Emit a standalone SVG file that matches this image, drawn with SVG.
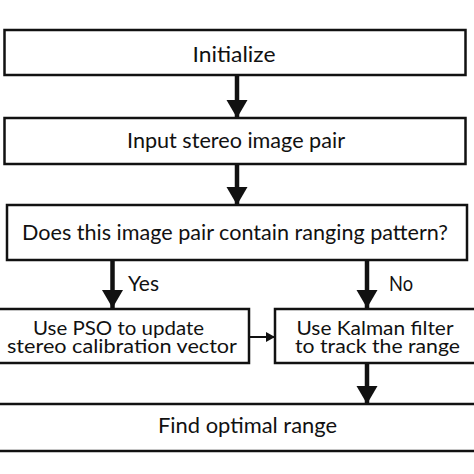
<svg xmlns="http://www.w3.org/2000/svg" width="474" height="474" viewBox="0 0 474 474">
<defs>
<style>
.box{fill:#fff;stroke:#111;stroke-width:2.5}
.t{font-family:Lato,"Open Sans",sans-serif;font-size:21.5px;fill:#111;text-anchor:middle}
.s{font-size:19.5px}
.l{font-family:Lato,"Open Sans",sans-serif;font-size:21.5px;fill:#111}
.c{stroke:#111;stroke-width:4.5;fill:none}
.c2{stroke:#111;stroke-width:2;fill:none}
</style>
<marker id="ah" markerUnits="userSpaceOnUse" markerWidth="22" markerHeight="22" refX="18" refY="10.5" orient="auto">
<path d="M0,0 L18,10.5 L0,21 Z" fill="#111"/>
</marker>
<marker id="ahs" markerUnits="userSpaceOnUse" markerWidth="10" markerHeight="12" refX="9" refY="5" orient="auto">
<path d="M0,0 L9,5 L0,10 Z" fill="#111"/>
</marker>
</defs>
<rect width="474" height="474" fill="#fff"/>
<g id="connectors">
<line class="c" x1="237" y1="75" x2="237" y2="118" marker-end="url(#ah)"/>
<line class="c" x1="237" y1="164" x2="237" y2="205" marker-end="url(#ah)"/>
<line class="c" x1="112.5" y1="260" x2="112.5" y2="308" marker-end="url(#ah)"/>
<line class="c" x1="367" y1="260" x2="367" y2="308" marker-end="url(#ah)"/>
<line class="c2" x1="249" y1="337" x2="275" y2="337" marker-end="url(#ahs)"/>
<line class="c" x1="367" y1="363" x2="367" y2="404" marker-end="url(#ah)"/>
<text class="l" x="128" y="291" textLength="31" lengthAdjust="spacingAndGlyphs">Yes</text>
<text class="l" x="389" y="291" textLength="24" lengthAdjust="spacingAndGlyphs">No</text>
</g>
<g id="n1">
<rect class="box" x="4.5" y="30" width="461" height="45"/>
<text class="t" x="234" y="62" textLength="83" lengthAdjust="spacingAndGlyphs">Initialize</text>
</g>
<g id="n2">
<rect class="box" x="4.5" y="118" width="461" height="46"/>
<text class="t" x="236" y="148" textLength="218" lengthAdjust="spacingAndGlyphs">Input stereo image pair</text>
</g>
<g id="n3">
<rect class="box" x="7" y="205" width="460" height="55"/>
<text class="t" x="235" y="239.5" textLength="426" lengthAdjust="spacingAndGlyphs">Does this image pair contain ranging pattern?</text>
</g>
<g id="n4">
<rect class="box" x="-3" y="309" width="252" height="54"/>
<text class="t s" x="118.5" y="334.5" textLength="171" lengthAdjust="spacingAndGlyphs">Use PSO to update</text>
<text class="t s" x="122" y="352.5" textLength="230" lengthAdjust="spacingAndGlyphs">stereo calibration vector</text>
</g>
<g id="n5">
<rect class="box" x="275" y="309" width="203" height="54"/>
<text class="t s" x="375" y="334.5" textLength="157" lengthAdjust="spacingAndGlyphs">Use Kalman filter</text>
<text class="t s" x="377.5" y="352.5" textLength="165" lengthAdjust="spacingAndGlyphs">to track the range</text>
</g>
<g id="n6">
<rect class="box" x="-3" y="404" width="481" height="47"/>
<text class="t" x="247.5" y="433" textLength="179" lengthAdjust="spacingAndGlyphs">Find optimal range</text>
</g>
</svg>
